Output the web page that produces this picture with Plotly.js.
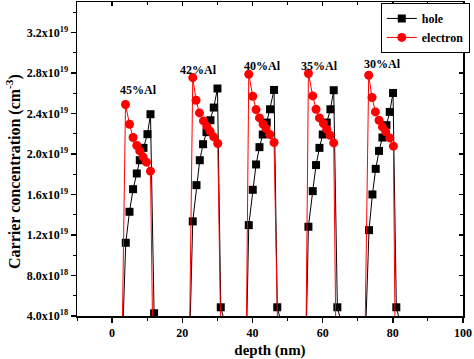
<!DOCTYPE html>
<html>
<head>
<meta charset="utf-8">
<script src="https://cdn.plot.ly/plotly-3.0.1.min.js"></script>
<style>html,body{margin:0;padding:0;background:#fff;}#chart{width:474px;height:359px;}</style>
</head>
<body>
<div id="chart"></div>
<script>
// hole concentration (cm^-3) vs depth (nm); points below 4e18 fall under the axis
const holeX = [2.8, 3.9, 4.96, 5.98, 7.04, 7.89, 8.94, 10.08, 10.94, 11.97, 12.97,
               22.0, 22.99, 24.05, 24.99, 25.93, 26.9, 28.03, 28.97, 30.03, 30.97, 31.97,
               38.2, 38.95, 40.09, 41.03, 42.0, 42.94, 44.08, 45.01, 46.15, 47.07, 48.07,
               55.2, 55.95, 57.18, 58.12, 59.09, 60.03, 61.17, 62.22, 63.16, 64.2, 65.2,
               72.0, 73.22, 74.19, 75.13, 76.07, 77.04, 78.18, 79.12, 80.06, 81.0, 82.0];
const holeY = [0, 1.123e19, 1.429e19, 1.652e19, 1.807e19, 1.938e19, 2.060e19, 2.195e19, 2.392e19, 4.27e18, 3.5e18,
               0, 1.334e19, 1.692e19, 1.938e19, 2.096e19, 2.215e19, 2.333e19, 2.458e19, 2.646e19, 4.86e18, 3.5e18,
               0, 1.297e19, 1.646e19, 1.896e19, 2.067e19, 2.192e19, 2.310e19, 2.441e19, 2.632e19, 4.86e18, 3.5e18,
               0, 1.281e19, 1.633e19, 1.890e19, 2.060e19, 2.192e19, 2.310e19, 2.441e19, 2.629e19, 4.86e18, 3.5e18,
               0, 1.248e19, 1.600e19, 1.853e19, 2.030e19, 2.162e19, 2.284e19, 2.415e19, 2.602e19, 4.86e18, 3.5e18];
// electron concentration (cm^-3) vs depth (nm)
const electronX = [2.8, 3.82, 4.96, 5.98, 7.04, 7.89, 8.83, 9.80, 10.94, 11.66,
                   22.0, 22.99, 23.93, 24.9, 26.04, 26.98, 27.92, 28.97, 30.11, 31.06,
                   38.2, 38.95, 40.09, 41.03, 42.0, 43.02, 43.87, 44.93, 46.15, 47.32,
                   55.2, 55.95, 57.18, 58.12, 59.09, 60.23, 61.17, 62.11, 63.16, 63.83,
                   72.0, 73.13, 74.07, 75.04, 76.07, 77.04, 77.98, 79.12, 80.17, 80.7];
const electronY = [0, 2.488e19, 2.293e19, 2.162e19, 2.083e19, 2.030e19, 1.971e19, 1.919e19, 1.830e19, 0,
                   0, 2.754e19, 2.530e19, 2.405e19, 2.326e19, 2.274e19, 2.224e19, 2.168e19, 2.103e19, 0,
                   0, 2.787e19, 2.570e19, 2.438e19, 2.356e19, 2.296e19, 2.251e19, 2.192e19, 2.113e19, 0,
                   0, 2.794e19, 2.573e19, 2.441e19, 2.356e19, 2.300e19, 2.244e19, 2.185e19, 2.109e19, 0,
                   0, 2.777e19, 2.557e19, 2.415e19, 2.333e19, 2.267e19, 2.218e19, 2.158e19, 2.077e19, 0];
// Al-content labels and their positions (depth, concentration)
const alLabels = ["45%Al", "42%Al", "40%Al", "35%Al", "30%Al"];
const alLabelX = [7.4, 24.5, 42.9, 59.2, 77.2];
const alLabelY = [2.636e19, 2.826e19, 2.865e19, 2.865e19, 2.892e19];
// y tick values and labels
const yTickVals = [4e18, 8e18, 1.2e19, 1.6e19, 2.0e19, 2.4e19, 2.8e19, 3.2e19];
const yTickText = ["4.0x10<sup>18</sup>", "8.0x10<sup>18</sup>", "1.2x10<sup>19</sup>", "1.6x10<sup>19</sup>",
                   "2.0x10<sup>19</sup>", "2.4x10<sup>19</sup>", "2.8x10<sup>19</sup>", "3.2x10<sup>19</sup>"];
const yTitle = "Carrier concentration (cm<sup>-3</sup>)";
const xTitle = "depth (nm)";
const xRange = [-10, 100];
const yRange = [4e18, 3.5e19];

const serif = "'Liberation Serif', 'Times New Roman', serif";
const boldFont = (s) => ({family: serif, size: s, color: "#000", weight: "bold"});

const traces = [
  {x: holeX, y: holeY, name: "hole", type: "scatter", mode: "lines+markers",
   line: {color: "#000", width: 1}, marker: {symbol: "square", size: 8, color: "#000"}},
  {x: electronX, y: electronY, name: "electron", type: "scatter", mode: "lines+markers",
   line: {color: "#ff0000", width: 1}, marker: {symbol: "circle", size: 9, color: "#ff0000"}},
  {x: [], y: [], xaxis: "x2", yaxis: "y2", showlegend: false, hoverinfo: "skip", type: "scatter"}
];

const annotations = alLabels.map((t, i) => ({
  x: alLabelX[i], y: alLabelY[i], xref: "x", yref: "y", text: "<b>" + t + "</b>",
  showarrow: false, font: boldFont(12)
}));
annotations.push({
  x: -0.163, y: 0.459, xref: "paper", yref: "paper", text: "<b>" + yTitle + "</b>",
  textangle: -90, showarrow: false, xanchor: "center", yanchor: "middle", font: boldFont(16)
});

const layout = {
  width: 474, height: 359,
  margin: {l: 77, r: 11, t: 2, b: 43},
  paper_bgcolor: "#fff", plot_bgcolor: "#fff",
  showlegend: true,
  legend: {x: 0.787, y: 0.997, xanchor: "left", yanchor: "top", bgcolor: "#fff",
           bordercolor: "#000", borderwidth: 1, font: boldFont(12), tracegroupgap: 0,
           itemwidth: 30},
  xaxis: {range: xRange, showgrid: false, zeroline: false, showline: true, linecolor: "#000", linewidth: 1.5,
          ticks: "outside", ticklen: 5, tickwidth: 1.5, tickcolor: "#000", dtick: 20, tick0: 0,
          tickfont: boldFont(12), tickprefix: "<b>", ticksuffix: "</b>",
          minor: {dtick: 10, tick0: 0, ticks: "outside", ticklen: 3, tickwidth: 1, tickcolor: "#000"},
          title: {text: "<b>" + xTitle + "</b>", font: boldFont(15), standoff: 6}},
  yaxis: {range: yRange, showgrid: false, zeroline: false, showline: true, linecolor: "#000", linewidth: 1.5,
          ticks: "outside", ticklen: 5, tickwidth: 1.5, tickcolor: "#000",
          tickvals: yTickVals, ticktext: yTickText.map(s => "<b>" + s + "</b>"), tickfont: boldFont(12),
          minor: {dtick: 2e18, tick0: 0, ticks: "outside", ticklen: 3, tickwidth: 1, tickcolor: "#000"}},
  xaxis2: {overlaying: "x", matches: "x", side: "top", anchor: "y", range: xRange, showgrid: false, zeroline: false,
           showline: true, linecolor: "#000", linewidth: 1.5, ticks: "inside", ticklen: 4, tickwidth: 1.5,
           tickcolor: "#000", dtick: 20, tick0: 0, showticklabels: false,
           minor: {dtick: 10, tick0: 0, ticks: "inside", ticklen: 3, tickwidth: 1, tickcolor: "#000"}},
  yaxis2: {overlaying: "y", matches: "y", side: "right", anchor: "x", range: yRange, showgrid: false, zeroline: false,
           showline: true, linecolor: "#000", linewidth: 1.5, ticks: "inside", ticklen: 4, tickwidth: 1.5,
           tickcolor: "#000", tickvals: yTickVals, showticklabels: false,
           minor: {dtick: 2e18, tick0: 0, ticks: "inside", ticklen: 3, tickwidth: 1, tickcolor: "#000"}},
  annotations: annotations
};

Plotly.newPlot("chart", traces, layout, {displayModeBar: false, staticPlot: true});
</script>
</body>
</html>
